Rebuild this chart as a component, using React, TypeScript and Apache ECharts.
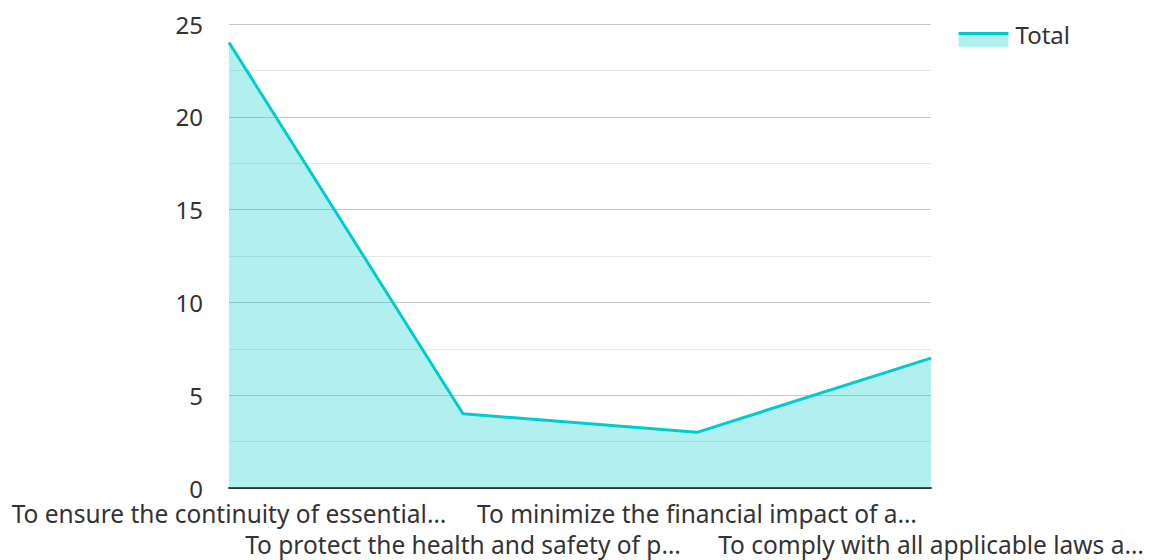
import React, { useEffect, useRef } from "react";
import * as echarts from "echarts";

const categories = [
  "To ensure the continuity of essential…",
  "To protect the health and safety of p…",
  "To minimize the financial impact of a…",
  "To comply with all applicable laws a…",
];
const totalValues = [24, 4, 3, 7];
const seriesName = "Total";
const lineColor = "#00cccc";
const areaColor = "rgba(0,204,204,0.3)";
const fontFamily = "Noto Sans";

export default function App() {
  const ref = useRef<HTMLDivElement>(null);
  useEffect(() => {
    if (!ref.current) return;
    const chart = echarts.init(ref.current, null, { renderer: "svg" });
    chart.setOption({
      animation: false,
      textStyle: { fontFamily },
      grid: { left: 229, right: 219, top: 24, bottom: 70 },
      legend: {
        show: true,
        right: 75,
        top: 16,
        itemWidth: 50,
        itemHeight: 26,
        itemGap: 12,
        icon: "path://M0,0H50V26H0Z",
        data: [
          {
            name: seriesName,
            itemStyle: {
              color: new echarts.graphic.LinearGradient(0, 0, 0, 1, [
                { offset: 0, color: "rgba(0,0,0,0)" },
                { offset: 0.42, color: "rgba(0,0,0,0)" },
                { offset: 0.42, color: lineColor },
                { offset: 0.54, color: lineColor },
                { offset: 0.54, color: areaColor },
                { offset: 1, color: areaColor },
              ]),
            },
          },
        ],
        textStyle: { fontSize: 24, lineHeight: 26, color: "#333", fontFamily, padding: [0, 0, 0, 2] },
      },
      xAxis: {
        type: "category",
        data: categories,
        boundaryGap: false,
        axisLine: { show: true, lineStyle: { color: "#333", width: 2 } },
        axisTick: { show: false },
        splitLine: { show: false },
        axisLabel: {
          interval: 0,
          fontSize: 24.5,
          color: "#333",
          lineHeight: 31,
          margin: 10,
          fontFamily,
          formatter: (v: string, i: number) => (i % 2 === 1 ? "\n" + v : v),
        },
      },
      yAxis: {
        type: "value",
        min: 0,
        max: 25,
        interval: 5,
        axisLine: { show: false },
        axisTick: { show: false },
        axisLabel: { fontSize: 24, color: "#333", margin: 26, fontFamily },
        splitLine: { show: true, lineStyle: { color: "#c6c6c6", width: 1 } },
        minorTick: { show: false, splitNumber: 2 },
        minorSplitLine: { show: true, lineStyle: { color: "#e6e6e6", width: 1 } },
      },
      series: [
        {
          name: seriesName,
          type: "line",
          data: totalValues,
          symbol: "none",
          lineStyle: { color: lineColor, width: 3 },
          itemStyle: { color: lineColor },
          areaStyle: { color: lineColor, opacity: 0.3 },
        },
      ],
    });
    return () => chart.dispose();
  }, []);
  return (
    <div
      ref={ref}
      style={{ position: "absolute", left: 0, top: 0, width: 1150, height: 560 }}
    />
  );
}
